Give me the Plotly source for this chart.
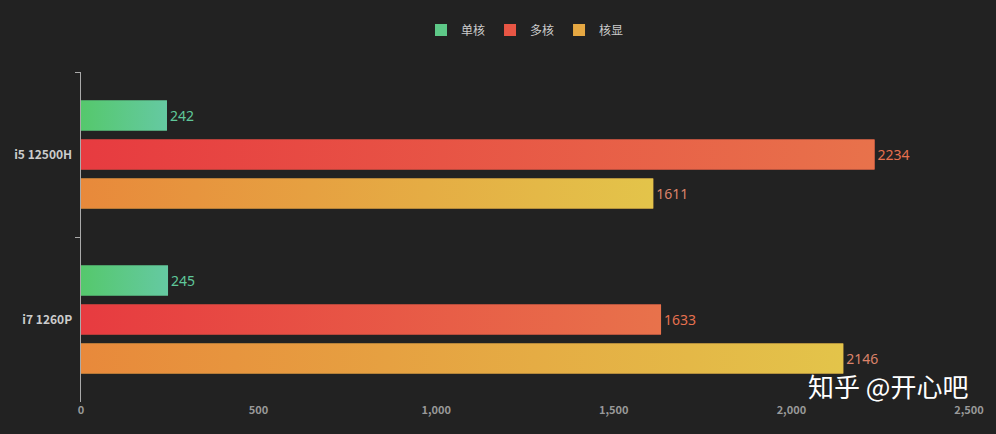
import plotly.graph_objects as go

categories = ["i5 12500H", "i7 1260P"]
series_names = ["单核", "多核", "核显"]
single_core = [242, 245]
multi_core = [2234, 1633]
igpu = [1611, 2146]
x_ticks = [0, 500, 1000, 1500, 2000, 2500]

series_values = [single_core, multi_core, igpu]
grad_left = ["#55c86c", "#e73b40", "#e8893b"]
grad_right = ["#65c9a2", "#e8724b", "#e3c44a"]
bar_colors = ["#5ec988", "#e85645", "#e6a842"]
label_colors = ["#5fc79a", "#e6714f", "#dc826a"]

BARGAP = 0.29
BARGROUPGAP = 0.23

fig = go.Figure()
for name, vals, col, lcol in zip(series_names, series_values, bar_colors, label_colors):
    fig.add_trace(go.Bar(
        name=name, y=categories, x=vals, orientation="h",
        marker=dict(color=col, line=dict(width=0)),
        text=[str(v) for v in vals], textposition="outside",
        textfont=dict(color=lcol, size=14, family="Noto Sans"),
        cliponaxis=False, hoverinfo="x+name",
    ))

# gradient fill overlays computed from the same data and the group layout
n = len(series_values)
group_w = 1 - BARGAP
slot = group_w / n
bar_w = slot * (1 - BARGROUPGAP)
for k, vals in enumerate(series_values):
    for i, v in enumerate(vals):
        c = i - group_w / 2 + slot * (k + 0.5)
        y0, y1 = c - bar_w / 2, c + bar_w / 2
        fig.add_trace(go.Scatter(
            x=[0, v, v, 0, 0], y=[y0, y0, y1, y1, y0], yaxis="y2",
            mode="lines", line=dict(width=0), fill="toself",
            fillgradient=dict(type="horizontal",
                              colorscale=[[0, grad_left[k]], [1, grad_right[k]]]),
            showlegend=False, hoverinfo="skip",
        ))

n_cat = len(categories)
fig.update_layout(
    width=996, height=434,
    paper_bgcolor="#222222", plot_bgcolor="#222222",
    margin=dict(l=81, r=27, t=72, b=32),
    barmode="group", bargap=BARGAP, bargroupgap=BARGROUPGAP,
    font=dict(family="Noto Sans CJK SC", color="#cccccc"),
    legend=dict(orientation="h", x=0.5, xanchor="center", y=1.127, yanchor="middle",
                font=dict(size=12, color="#cccccc"), itemwidth=30, bgcolor="rgba(0,0,0,0)"),
    xaxis=dict(range=[0, 2500], tickvals=x_ticks, tickformat=",", showgrid=False,
               zeroline=False, showline=False, ticks="",
               tickfont=dict(size=11, color="#999999", family="Noto Sans CJK SC, sans-serif", weight="bold")),
    yaxis=dict(range=[n_cat - 0.5, -0.5], type="category", showline=True, linecolor="#aaaaaa", linewidth=1,
               ticks="outside", ticklen=5, tickcolor="#aaaaaa", tickson="boundaries",
               showgrid=False, ticksuffix="  ",
               tickfont=dict(size=12, color="#cccccc", weight="bold")),
    yaxis2=dict(overlaying="y", range=[n_cat - 0.5, -0.5], visible=False, showgrid=False),
    annotations=[dict(text="知乎 @开心吧", xref="paper", yref="paper", x=1.0, y=0.0485,
                      xanchor="right", yanchor="middle", showarrow=False, borderpad=0,
                      font=dict(size=26, color="#ffffff", family="Noto Sans CJK SC"))],
)

fig.write_html("out.html")
